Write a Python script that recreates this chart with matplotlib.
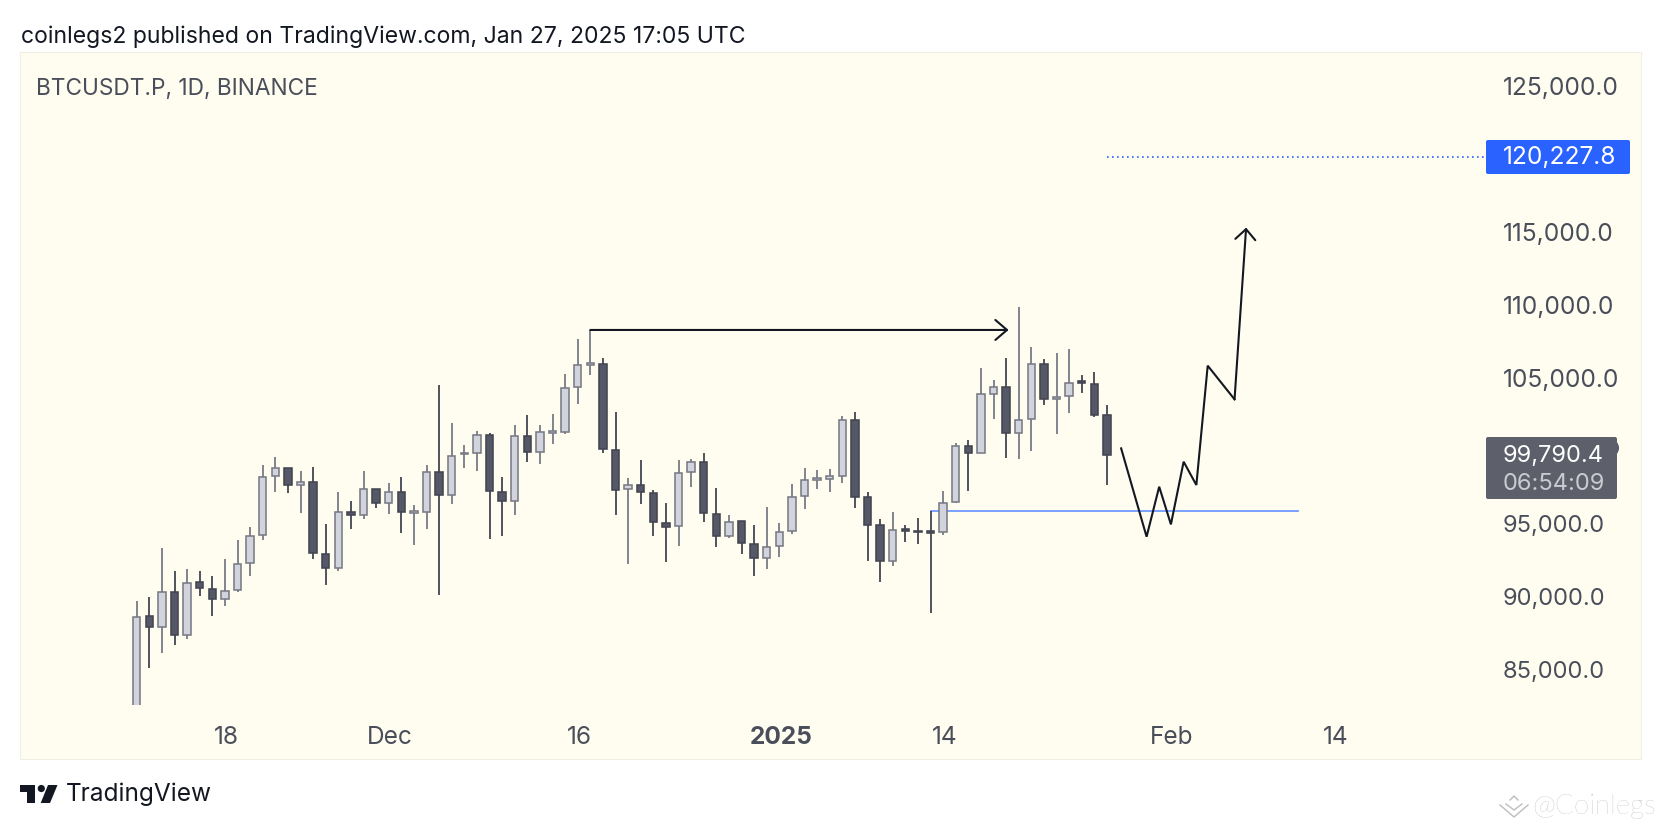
import matplotlib
matplotlib.use("Agg")
import matplotlib.pyplot as plt
import numpy as np
import pandas as pd
from matplotlib.patches import Rectangle, FancyBboxPatch, Polygon, Circle
from matplotlib.transforms import ScaledTranslation

plt.rcParams['font.family'] = ['Inter', 'DejaVu Sans']

start_date = "2024-11-11"
opens = [80400,88732,87999,90401,87428,91065,90630,89921,90538,92368,94312,98383,98909,97742,97925,93031,92025,95890,95707,97468,96507,97262,95844,95913,98634,97033,99846,99938,101173,97285,96622,101081,99984,101333,101402,104489,105998,106044,100144,97445,97765,97216,95112,94907,98634,99343,95753,94266,95250,93672,92757,93557,94586,96987,98108,98177,98382,102179,96919,95002,92528,94723,94609,94563,94495,96553,100418,99915,104008,104466,101287,102247,106067,103665,103848,104855,104649,102522]
highs = [89806,90081,93397,91842,91956,91842,91522,92688,93992,94838,99115,99664,98909,98680,98977,95044,97239,96622,98703,97468,97903,98268,96393,99115,104626,101973,100464,101470,101287,98291,101859,102522,101859,102614,105335,107759,108377,106456,102751,98200,99458,97399,96484,99435,99549,99961,97559,95661,95250,94998,96256,95135,97811,98931,98748,98840,102453,102773,97262,95386,95912,95002,95455,95981,97331,100647,100830,105747,104946,106433,109978,107210,106364,106821,107050,105266,105472,103208]
lows = [80200,85210,86239,86765,87154,90150,88777,89464,90424,91522,93992,97239,97171,95844,92688,90904,91865,94724,95433,96187,95775,94426,93603,94701,90218,96462,98909,98726,94060,94266,95661,99297,99183,100555,101219,103277,105289,99961,95707,92322,96416,94243,92482,93557,97582,95181,93466,94129,92985,91522,91982,92802,94357,96095,97445,97262,97902,96187,92550,91064,92185,93808,93694,88937,94312,96484,97308,99915,102247,99617,99526,100098,103231,101241,102705,104031,102431,97720]
closes = [88709,87999,90401,87428,91042,90653,89898,90492,92299,94266,98314,98886,97742,97925,93054,92025,95867,95684,97468,96484,97239,95913,95959,98634,97033,99755,99961,101173,97331,96622,101081,99984,101356,101425,104420,105975,106113,100189,97422,97742,97262,95181,94884,98589,99343,95798,94266,95227,93740,92757,93511,94540,96942,98108,98222,98359,102179,96942,95020,92528,94632,94609,94495,94472,96484,100418,99915,103963,104466,101287,102202,106067,103665,103802,104763,104763,102545,99800]

price_ticks = [85000,90000,95000,105000,110000,115000,125000]
time_tick_dates = ["2024-11-18","2024-12-01","2024-12-16","2025-01-01","2025-01-14","2025-02-01","2025-02-14"]
time_tick_labels = ["18","Dec","16","2025","14","Feb","14"]

arrow_start_day, arrow_end_day, arrow_price = 36, 69.2, 108377
path_days = [78.13,80.15,81.15,82.08,83.09,84.10,85.0,87.13,88.05]
path_prices = [100256,94196,97626,95042,99341,97741,105928,103618,115396]
level_price, level_days = 95981, (63, 92.2)
target_price, target_start_day = 120227.8, 77
last_price_text, countdown_text, target_text = "99,790.4", "06:54:09", "120,227.8"

W, H = 1660, 828
PANEL = "#fffdf0"
UP_FILL, UP_LINE = "#d1d4dc", "#787b86"
DN_FILL, DN_LINE = "#555866", "#434651"
INK = "#131722"
TXT = "#4a4e5a"

fig = plt.figure(figsize=(W/100, H/100), dpi=100, facecolor="white")

def pane(x0, y0, x1, y1):
    return [x0/W, 1-y1/H, (x1-x0)/W, (y1-y0)/H]

bg = fig.add_axes([0,0,1,1], zorder=0)
bg.set_xlim(0,W); bg.set_ylim(H,0); bg.axis("off")
bg.add_patch(Rectangle((19.5,52.5),1621,707,facecolor=PANEL,edgecolor="#f0efe6",lw=0.8))

ax = fig.add_axes(pane(20,53,1486,705.5), zorder=1)
ax.patch.set_alpha(0)
for s in ax.spines.values():
    s.set_visible(False)
ax.set_xlim((20-136.7)/12.6, (1486-136.7)/12.6)
ax.set_ylim(95000-179.5/0.01458, 95000+473/0.01458)

days = np.arange(len(opens))
o, h, l, c = map(np.array, (opens, highs, lows, closes))
up = c >= o
ax.vlines(days[up], l[up], h[up], color=UP_LINE, lw=1.3, zorder=2)
ax.vlines(days[~up], l[~up], h[~up], color=DN_LINE, lw=1.3, zorder=2)
ax.bar(days[up], (c-o)[up], bottom=o[up], width=0.6, facecolor=UP_FILL, edgecolor=UP_LINE, lw=1.15, zorder=3)
ax.bar(days[~up], (c-o)[~up], bottom=o[~up], width=0.6, facecolor=DN_FILL, edgecolor=DN_LINE, lw=1.15, zorder=3)

# drawings
ax.annotate("", xy=(arrow_end_day, arrow_price), xytext=(arrow_start_day, arrow_price),
            arrowprops=dict(arrowstyle="->,head_length=0.84,head_width=0.72", color=INK, lw=1.5,
                            shrinkA=0, shrinkB=0, mutation_scale=10), zorder=5)
ax.plot(path_days[:-1], path_prices[:-1], color=INK, lw=1.5, zorder=5, solid_joinstyle="miter")
ax.annotate("", xy=(path_days[-1], path_prices[-1]), xytext=(path_days[-2], path_prices[-2]),
            arrowprops=dict(arrowstyle="->,head_length=0.75,head_width=0.72", color=INK, lw=1.5,
                            shrinkA=0, shrinkB=0, mutation_scale=10), zorder=5)
ax.plot(level_days, [level_price, level_price], color="#6f9bff", lw=1.3, zorder=1)
ax.plot([target_start_day, ax.get_xlim()[1]], [target_price, target_price], color="#2962ff", lw=1.2,
        ls=(0,(1,2.0)), zorder=1)

# axes labels
start = pd.Timestamp(start_date)
ax.set_xticks([(pd.Timestamp(d)-start).days for d in time_tick_dates])
ax.set_xticklabels(time_tick_labels, fontsize=17.6, color=TXT)
ax.yaxis.tick_right()
ax.set_yticks(price_ticks)
ax.set_yticklabels([f"{p:,.1f}" for p in price_ticks], fontsize=17.7, color=TXT)
ax.tick_params(axis="x", length=0, pad=14.5)
ax.tick_params(axis="y", length=0, pad=12.2)
for lab, txt in zip(ax.get_xticklabels(), time_tick_labels):
    if txt == "2025":
        lab.set_fontweight("bold")
    lab.set_transform(lab.get_transform() + ScaledTranslation(1.6/100, 0, fig.dpi_scale_trans))
for lab, p in zip(ax.get_yticklabels(), price_ticks):
    lab.set_fontsize(17.7 if p >= 100000 else 17.0)
    lab.set_transform(lab.get_transform() + ScaledTranslation(0, 2.6/100, fig.dpi_scale_trans))

ov = fig.add_axes([0,0,1,1], zorder=2)
ov.set_xlim(0,W); ov.set_ylim(H,0); ov.axis("off"); ov.patch.set_alpha(0)

ov.text(21, 37, "coinlegs2 published on TradingView.com, Jan 27, 2025 17:05 UTC", fontsize=16.57, color=INK, va="center")
ov.text(36, 89, "BTCUSDT.P, 1D, BINANCE", fontsize=16.3, color=TXT, va="center")
ov.text(66, 794, "TradingView", fontsize=17.6, color=INK, va="center")

# last price + target labels
ov.add_patch(Circle((1610,449),9,facecolor=DN_FILL,edgecolor="none"))
ov.add_patch(FancyBboxPatch((1486,438),131,62,boxstyle="round,pad=0,rounding_size=2",facecolor="#5d606b",edgecolor="none"))
ov.add_patch(FancyBboxPatch((1486,141),144,34,boxstyle="round,pad=0,rounding_size=2",facecolor="#2962ff",edgecolor="none"))
ov.text(1503, 158, target_text, fontsize=17.7, color="white", va="center")
ov.text(1503, 456, last_price_text, fontsize=17.0, color="white", va="center")
ov.text(1503, 484, countdown_text, fontsize=17.0, color="#c9cbd1", va="center")

# TradingView logo
ov.add_patch(Polygon([(20,786),(35,786),(35,804),(27,804),(27,793),(20,793)],facecolor=INK,edgecolor="none"))
ov.add_patch(Circle((41.3,789.5),3.6,facecolor=INK,edgecolor="none"))
ov.add_patch(Polygon([(48,786),(57.5,786),(50,804),(40.7,804)],facecolor=INK,edgecolor="none"))

# watermark
ov.text(1532, 807, "@Coinlegs", fontsize=20, color="#b4b4b4", va="center", family=["Lato","DejaVu Sans"], fontweight="light")
wm = "#bdbdbd"
ov.plot([1500,1514,1528],[806,818,806],color=wm,lw=1)
ov.plot([1506,1514,1522],[805,811,805],color=wm,lw=1)
ov.plot([1510,1514,1518],[801,797,801],color=wm,lw=1)

fig.savefig("out.png", dpi=100, facecolor="white")
